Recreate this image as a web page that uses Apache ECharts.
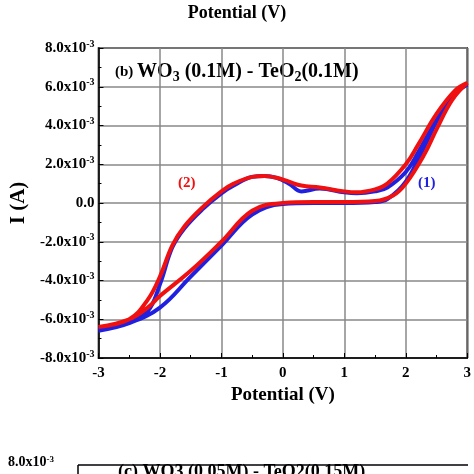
<!DOCTYPE html><html><head><meta charset="utf-8"><script src="https://cdn.jsdelivr.net/npm/echarts@6/dist/echarts.min.js"></script></head><body style="margin:0"><div id="c" style="width:474px;height:474px"></div><script>
const blueX=[-3,-2.5,-2,-1.5,-1,-0.5,0,0.5,1,1.5,1.7,2,2.3,2.5,2.75,3,2.8,2.5,2.2,2,1.7,1.5,1.2,1,0.6,0.3,0.1,-0.1,-0.3,-0.5,-0.8,-1,-1.3,-1.6,-1.8,-2,-2.2,-2.5,-3];
const blueY=[-6.6,-6.2,-5.4,-3.8,-2.2,-0.6,-0.05,0,0,0.05,0.2,1.1,2.9,4.2,5.5,6.1,5.7,4.3,2.6,1.6,0.8,0.6,0.5,0.55,0.75,0.6,1.0,1.3,1.4,1.35,0.9,0.5,-0.3,-1.3,-2.3,-4.2,-5.6,-6.1,-6.5];
const redX=[-3,-2.5,-2.2,-2,-1.5,-1,-0.5,0,0.5,1,1.5,1.8,2,2.3,2.5,2.75,3,2.8,2.5,2.2,2,1.7,1.5,1.2,1,0.6,0.3,0.1,-0.1,-0.3,-0.5,-0.8,-1,-1.3,-1.6,-1.8,-2,-2.2,-2.5,-3];
const redY=[-6.4,-6.0,-5.4,-4.8,-3.5,-2.0,-0.4,0,0.05,0.05,0.1,0.4,1.0,2.5,3.8,5.3,6.2,5.8,4.6,3.0,2.0,1.0,0.7,0.55,0.6,0.8,0.9,1.1,1.3,1.4,1.35,1.0,0.6,-0.2,-1.2,-2.2,-3.8,-5.0,-6.0,-6.4];
const xTicks=[-3,-2,-1,0,1,2,3];
const yTicks=[-8,-6,-4,-2,0,2,4,6,8];
const font='Liberation Serif';
function pts(x,y){return x.map((v,i)=>[v,y[i]]);}
function yl(v){if(v===0)return '{b|0.0}';return '{b|'+v.toFixed(1)+'x10}{s|-3}';}
const ch=echarts.init(document.getElementById('c'));
ch.setOption({
grid:{left:78,right:6,top:48,bottom:116,show:true,borderColor:'#000',borderWidth:1.5},
xAxis:{type:'value',min:-3,max:3,interval:1,name:'Potential (V)',nameLocation:'middle',nameGap:26,
nameTextStyle:{fontFamily:font,fontWeight:'bold',fontSize:19,color:'#000'},
axisLine:{onZero:false,lineStyle:{color:'#000',width:1.5}},axisTick:{inside:true,length:5,lineStyle:{color:'#000'}},
minorTick:{show:true,splitNumber:2,length:3,lineStyle:{color:'#000'}},
axisLabel:{fontFamily:font,fontWeight:'bold',fontSize:15,color:'#000',margin:8},
splitLine:{lineStyle:{color:'#888',width:1.5}}},
yAxis:{type:'value',min:-8,max:8,interval:2,name:'I (A)',nameLocation:'middle',nameGap:62,
nameTextStyle:{fontFamily:font,fontWeight:'bold',fontSize:21,color:'#000'},
axisLine:{onZero:false,lineStyle:{color:'#000',width:1.5}},axisTick:{inside:true,length:5,lineStyle:{color:'#000'}},
minorTick:{show:true,splitNumber:2,length:3,lineStyle:{color:'#000'}},
axisLabel:{formatter:yl,margin:4,rich:{b:{fontFamily:font,fontWeight:'bold',fontSize:15,color:'#000'},s:{fontFamily:font,fontWeight:'bold',fontSize:10,color:'#000',verticalAlign:'top',padding:[0,0,8,0]}}},
splitLine:{lineStyle:{color:'#888',width:1.5}}},
series:[
{type:'line',data:pts(blueX,blueY),smooth:0.4,showSymbol:false,lineStyle:{color:'#2020e0',width:4}},
{type:'line',data:pts(redX,redY),smooth:0.4,showSymbol:false,lineStyle:{color:'#f01010',width:4}}],
graphic:[
{type:'text',left:'center',top:4,style:{text:'Potential (V)',font:'bold 18px "Liberation Serif"',fill:'#000'}},
{type:'text',x:115,y:60,style:{text:'{a|(b) }{c|WO}{d|3}{c| (0.1M) - TeO}{d|2}{c|(0.1M)}',rich:{a:{font:'bold 15px "Liberation Serif"',fill:'#000'},c:{font:'bold 20px "Liberation Serif"',fill:'#000'},d:{font:'bold 14px "Liberation Serif"',fill:'#000',padding:[10,0,0,0]}}}},
{type:'text',x:178,y:176,style:{text:'(2)',font:'bold 15px "Liberation Serif"',fill:'#f01010'}},
{type:'text',x:418,y:176,style:{text:'(1)',font:'bold 15px "Liberation Serif"',fill:'#2020e0'}},
{type:'text',x:8,y:455,style:{text:'{b|8.0x10}{s|-3}',rich:{b:{font:'bold 14px "Liberation Serif"',fill:'#000'},s:{font:'bold 9px "Liberation Serif"',fill:'#000',verticalAlign:'top'}}}},
{type:'line',shape:{x1:78,y1:465,x2:468,y2:465},style:{stroke:'#000',lineWidth:1.5}},
{type:'line',shape:{x1:78,y1:465,x2:78,y2:474},style:{stroke:'#000',lineWidth:1.5}},
{type:'text',x:118,y:463,style:{text:'(c) WO3 (0.05M) - TeO2(0.15M)',font:'bold 18px "Liberation Serif"',fill:'#000'}}
]});
</script></body></html>
